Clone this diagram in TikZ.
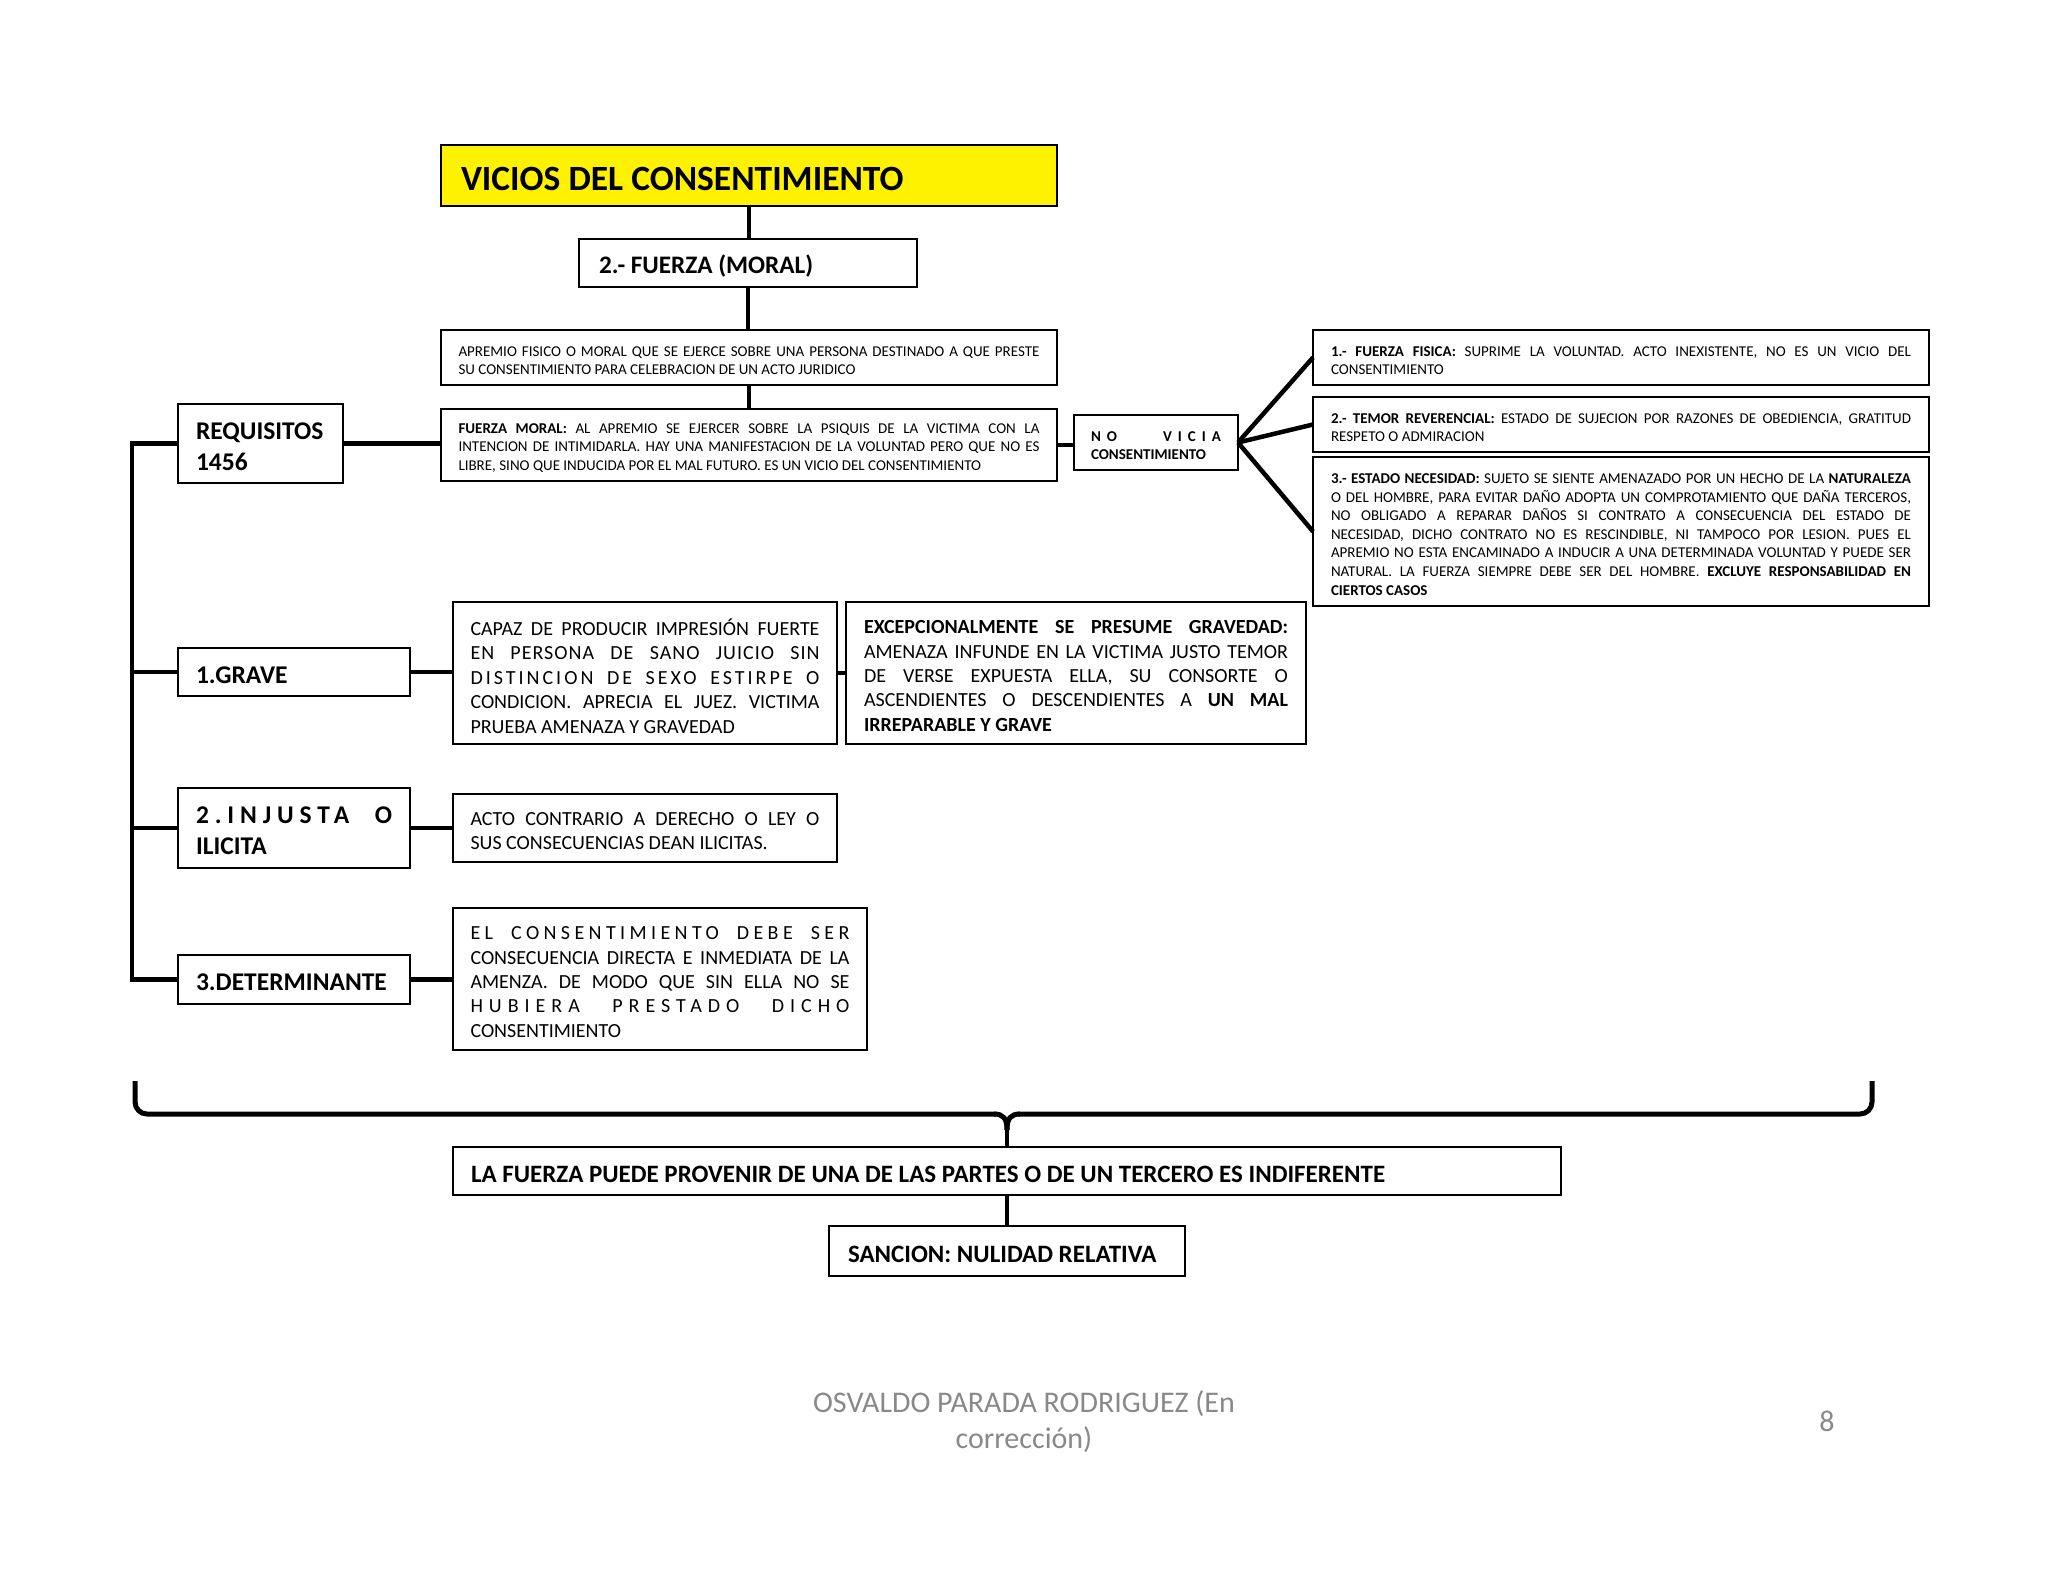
\documentclass[tikz,border=0pt]{standalone}
\usepackage{fontspec}
\setmainfont{Carlito}
\usetikzlibrary{calc}
\definecolor{footgray}{RGB}{137,137,137}
\newcommand\jline[1]{\makebox[\linewidth][s]{#1}\par}
\newcommand\lline[1]{#1\par}
\newcommand\tline[2]{{\addfontfeature{LetterSpace=#1}\makebox[\linewidth][s]{#2}}\par}
\newcommand\bc[2]{\raisebox{-3pt}[\height][\depth]{\parbox{#1}{#2}}}
\newcommand\fsmall{\fontsize{15pt}{18.6pt}\selectfont}
\newcommand\fmid{\fontsize{20pt}{24.4pt}\selectfont}
\newcommand\flab{\fontsize{25.5pt}{31pt}\selectfont\bfseries}
\tikzset{
  box/.style={draw=black, line width=2.6pt, fill=white, inner sep=0pt, outer sep=0pt, anchor=north west},
  conn/.style={draw=black, line width=4.5pt, line join=miter},
  fan/.style={draw=black, line width=4.5pt},
  brace/.style={draw=black, line width=5pt},
  footer/.style={text=footgray, font=\fontsize{30pt}{36pt}\selectfont, align=center, inner sep=0pt}
}
\begin{document}
\begin{tikzpicture}[x=1pt,y=-1pt]
\fill[white] (0,0) rectangle (2048,1582);
\useasboundingbox (0,0) rectangle (2048,1582);

% top chain
\node[box, fill=yellow, minimum width=616pt, minimum height=61pt] (title) at (441,145)
  {\bc{576pt}{\fontsize{35.5pt}{42pt}\selectfont\bfseries VICIOS DEL CONSENTIMIENTO}};
\node[box, minimum width=338pt, minimum height=48pt] (fm) at (579,239)
  {\bc{298pt}{\fontsize{25.2pt}{30pt}\selectfont\bfseries 2.- FUERZA (MORAL)}};
\node[box, minimum width=616pt, minimum height=55pt] (apr) at (441,330)
  {\bc{581pt}{\fsmall
   \jline{APREMIO FISICO O MORAL QUE SE EJERCE SOBRE UNA PERSONA DESTINADO A QUE PRESTE}
   \lline{SU CONSENTIMIENTO PARA CELEBRACION DE UN ACTO JURIDICO}}};
\node[box, minimum width=616pt, minimum height=72pt] (fmor) at (441,409)
  {\bc{581pt}{\fsmall
   \jline{\textbf{FUERZA MORAL:} AL APREMIO SE EJERCER SOBRE LA PSIQUIS DE LA VICTIMA CON LA}
   \jline{INTENCION DE INTIMIDARLA. HAY UNA MANIFESTACION DE LA VOLUNTAD PERO QUE NO ES}
   \lline{LIBRE, SINO QUE INDUCIDA POR EL MAL FUTURO. ES UN VICIO DEL CONSENTIMIENTO}}};
\node[box, minimum width=164pt, minimum height=55pt] (nov) at (1074,415)
  {\bc{130pt}{\fsmall\bfseries
   \tline{40}{NO VICIA}
   \lline{CONSENTIMIENTO}}};

% right boxes
\node[box, minimum width=616pt, minimum height=55pt] (b1) at (1313,330)
  {\bc{580pt}{\fsmall
   \jline{\textbf{1.- FUERZA FISICA:} SUPRIME LA VOLUNTAD. ACTO INEXISTENTE, NO ES UN VICIO DEL}
   \lline{CONSENTIMIENTO}}};
\node[box, minimum width=616pt, minimum height=55pt] (b2) at (1313,397)
  {\bc{580pt}{\fsmall
   \jline{\textbf{2.- TEMOR REVERENCIAL:} ESTADO DE SUJECION POR RAZONES DE OBEDIENCIA, GRATITUD}
   \lline{RESPETO O ADMIRACION}}};
\node[box, minimum width=616pt, minimum height=149pt] (b3) at (1313,457)
  {\bc{580pt}{\fsmall
   \jline{\textbf{3.- ESTADO NECESIDAD:} SUJETO SE SIENTE AMENAZADO POR UN HECHO DE LA \textbf{NATURALEZA}}
   \jline{O DEL HOMBRE, PARA EVITAR DAÑO ADOPTA UN COMPROTAMIENTO QUE DAÑA TERCEROS,}
   \jline{NO OBLIGADO A REPARAR DAÑOS SI CONTRATO A CONSECUENCIA DEL ESTADO DE}
   \jline{NECESIDAD, DICHO CONTRATO NO ES RESCINDIBLE, NI TAMPOCO POR LESION. PUES EL}
   \jline{APREMIO NO ESTA ENCAMINADO A INDUCIR A UNA DETERMINADA VOLUNTAD Y PUEDE SER}
   \jline{NATURAL. LA FUERZA SIEMPRE DEBE SER DEL HOMBRE. \textbf{EXCLUYE RESPONSABILIDAD EN}}
   \lline{\textbf{CIERTOS CASOS}}}};

% left column
\node[box, minimum width=165pt, minimum height=79pt] (req) at (178,404)
  {\bc{129pt}{\flab\lline{REQUISITOS}\lline{1456}}};
\node[box, minimum width=232pt, minimum height=48pt] (grave) at (178,648)
  {\bc{196pt}{\flab 1.GRAVE}};
\node[box, minimum width=232pt, minimum height=80pt] (inj) at (178,788)
  {\bc{196pt}{\flab\tline{23}{2.INJUSTA O}\lline{ILICITA}}};
\node[box, minimum width=232pt, minimum height=49pt] (det) at (178,955)
  {\bc{196pt}{\flab 3.DETERMINANTE}};

% middle boxes
\node[box, minimum width=384pt, minimum height=142pt] (capaz) at (453,602)
  {\bc{349pt}{\fmid
   \jline{CAPAZ DE PRODUCIR IMPRESIÓN FUERTE}
   \tline{5}{EN PERSONA DE SANO JUICIO SIN}
   \tline{15}{DISTINCION DE SEXO ESTIRPE O}
   \jline{CONDICION. APRECIA EL JUEZ. VICTIMA}
   \lline{PRUEBA AMENAZA Y GRAVEDAD}}};
\node[box, minimum width=460pt, minimum height=142pt] (exc) at (846,602)
  {\bc{424pt}{\fmid
   \jline{\textbf{EXCEPCIONALMENTE SE PRESUME GRAVEDAD:}}
   \jline{AMENAZA INFUNDE EN LA VICTIMA JUSTO TEMOR}
   \jline{DE VERSE EXPUESTA ELLA, SU CONSORTE O}
   \jline{ASCENDIENTES O DESCENDIENTES A \textbf{UN MAL}}
   \lline{\textbf{IRREPARABLE Y GRAVE}}}};
\node[box, minimum width=384pt, minimum height=68pt] (acto) at (453,794)
  {\bc{349pt}{\fmid
   \jline{ACTO CONTRARIO A DERECHO O LEY O}
   \lline{SUS CONSECUENCIAS DEAN ILICITAS.}}};
\node[box, minimum width=414pt, minimum height=142pt] (elc) at (453,908)
  {\bc{379pt}{\fmid
   \tline{22}{EL CONSENTIMIENTO DEBE SER}
   \jline{CONSECUENCIA DIRECTA E INMEDIATA DE LA}
   \jline{AMENZA. DE MODO QUE SIN ELLA NO SE}
   \tline{30}{HUBIERA PRESTADO DICHO}
   \lline{CONSENTIMIENTO}}};

% bottom
\node[box, minimum width=1108pt, minimum height=48pt] (lf) at (453,1147)
  {\bc{1072pt}{\fontsize{25pt}{30pt}\selectfont\bfseries LA FUERZA PUEDE PROVENIR DE UNA DE LAS PARTES O DE UN TERCERO ES INDIFERENTE}};
\node[box, minimum width=356pt, minimum height=50pt] (sanc) at (829,1226)
  {\bc{318pt}{\fontsize{25pt}{30pt}\selectfont\bfseries SANCION: NULIDAD RELATIVA}};

% footer
\node[footer] (auth) at (1024,1422) {OSVALDO PARADA RODRIGUEZ (En\\corrección)};
\node[footer] (pg) at (1827,1421) {8};

% connectors
\draw[conn] (title.south) -- (title.south |- fm.north);
\draw[conn] (fm.south) -- (fm.south |- apr.north);
\draw[conn] (apr.south) -- (apr.south |- fmor.north);
\draw[conn] (req.east) -- (req.east -| fmor.west);
\draw[conn] (fmor.east) -- (fmor.east -| nov.west);
\draw[fan] (nov.east) -- (b1.west);
\draw[fan] (nov.east) -- (b2.west);
\draw[fan] (nov.east) -- (b3.west);

\coordinate (bus) at (132,444);
\draw[conn] (req.west) -- (req.west -| bus) -- (det.west -| bus) -- (det.west);
\draw[conn] (grave.west -| bus) -- (grave.west);
\draw[conn] (inj.west -| bus) -- (inj.west);
\draw[conn] (grave.east) -- (grave.east -| capaz.west);
\draw[conn] (capaz.east) -- (capaz.east -| exc.west);
\draw[conn] (inj.east) -- (inj.east -| acto.west);
\draw[conn] (det.east) -- (det.east -| elc.west);
\draw[conn, line width=3.5pt] (lf.south) -- (lf.south |- sanc.north);

% brace
\coordinate (brL) at (135,1081);
\coordinate (brR) at (1872,1081);
\coordinate (brC) at (1007,1130);
\draw[brace, rounded corners=12pt] (brL) -- (135,1114) -- (996,1114);
\draw[brace] (994,1114) .. controls (1003,1114) and (1007,1118) .. (brC);
\draw[brace] (1020,1114) .. controls (1011,1114) and (1007,1118) .. (brC);
\draw[brace, rounded corners=12pt] (1018,1114) -- (1872,1114) -- (brR);
\draw[brace, line width=3.5pt] (brC) -- (lf.north);
\end{tikzpicture}
\end{document}
